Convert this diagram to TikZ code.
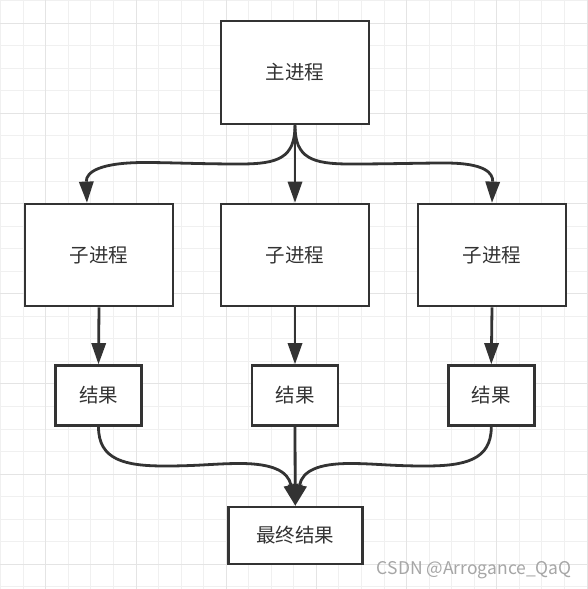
\documentclass[tikz,border=0pt]{standalone}
\usepackage{fontspec}
\newfontfamily\cjk{Noto Sans CJK SC}
\usetikzlibrary{arrows.meta,calc}
\definecolor{dk}{HTML}{333333}
\definecolor{gminor}{HTML}{F0F0F0}
\definecolor{gmajor}{HTML}{E4E4E4}
\definecolor{wm}{HTML}{A6A6A6}
\tikzset{
  box/.style={draw=dk, line width=2.8pt, fill=white, inner sep=0pt, text=dk,
    font=\cjk\fontsize{19.5}{21}\selectfont},
  conn/.style={draw=dk, line width=2.8pt,
    -{Triangle[length=21pt,width=15pt,line width=0pt]}},
}
\begin{document}
\begin{tikzpicture}[x=1pt,y=-1pt]
\useasboundingbox (0,0) rectangle (587,589);
\fill[white] (0,0) rectangle (587,589);
% grid
\foreach \k in {0,...,26}{
  \pgfmathsetmacro{\gx}{0.7+22.55*\k}
  \pgfmathsetmacro{\gy}{0.6+22.55*\k}
  \draw[gminor, line width=1pt] (\gx,0) -- (\gx,589);
  \draw[gminor, line width=1pt] (0,\gy) -- (587,\gy);
}
\foreach \k in {2,6,...,26}{
  \pgfmathsetmacro{\gx}{0.7+22.55*\k}
  \draw[gmajor, line width=1pt] (\gx,0) -- (\gx,589);
}
\foreach \k in {1,5,...,25}{
  \pgfmathsetmacro{\gy}{0.6+22.55*\k}
  \draw[gmajor, line width=1pt] (0,\gy) -- (587,\gy);
}
% nodes
\node[box, minimum width=148pt, minimum height=103pt] (m) at (295,72.5) {主进程};
\node[box, minimum width=148pt, minimum height=102pt] (c1) at (99,255) {子进程};
\node[box, minimum width=148pt, minimum height=102pt] (c2) at (295,255) {子进程};
\node[box, minimum width=148pt, minimum height=102pt] (c3) at (492,255) {子进程};
\node[box, minimum width=86pt, minimum height=60pt] (r1) at (98.5,395.5) {结果};
\node[box, minimum width=86pt, minimum height=60pt] (r2) at (295,395.5) {结果};
\node[box, minimum width=86pt, minimum height=60pt] (r3) at (491.3,395.5) {结果};
\node[box, minimum width=134pt, minimum height=57pt] (f) at (295.3,535.5) {最终结果};
% connectors
\draw[conn] (m.south) .. controls (295,158) and (278,164) .. (240,164)
  .. controls (200,164) and (170,162.5) .. (145,162.5)
  .. controls (100,162.5) and (86,172) .. ($(c1.north west)!0.42!(c1.north east)$);
\draw[conn] (m.south) -- (c2.north);
\draw[conn] (m.south) .. controls (295,158) and (312,164) .. (350,164)
  .. controls (390,164) and (420,163) .. (445,163)
  .. controls (485,163) and (493,173) .. (c3.north);
\draw[conn] (c1.south) -- (r1.north);
\draw[conn] (c2.south) -- (r2.north);
\draw[conn] (c3.south) -- (r3.north);
\draw[conn] (r1.south) .. controls (98.5,460) and (125,466) .. (165,466)
  .. controls (200,466) and (215,463.5) .. (240,463.5)
  .. controls (272,463.5) and (288,471) .. (f.north);
\draw[conn] (r2.south) -- (f.north);
\draw[conn] (r3.south) .. controls (491.3,460) and (465,466) .. (425,466)
  .. controls (390,466) and (375,463.5) .. (350,463.5)
  .. controls (318,463.5) and (302.5,471) .. (f.north);
% watermark
\node[anchor=east, text=wm, inner sep=0pt, font=\cjk\fontsize{17.5}{19}\selectfont] (wmk) at (572,570) {CSDN @Arrogance\_QaQ};
\end{tikzpicture}
\end{document}
